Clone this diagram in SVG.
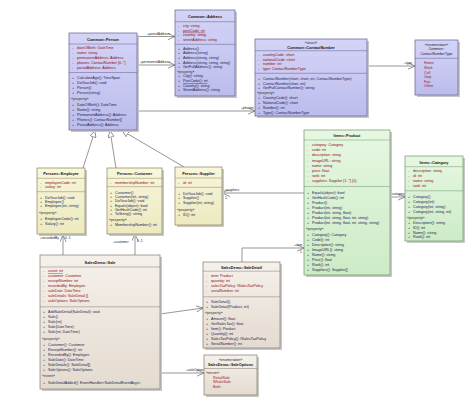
<svg xmlns="http://www.w3.org/2000/svg" width="474" height="404" viewBox="0 0 474 404">
<defs>
<linearGradient id="gC" x1="0" y1="0" x2="0" y2="1"><stop offset="0" stop-color="#d4d4f8"/><stop offset="1" stop-color="#bcbcec"/></linearGradient>
<linearGradient id="gP" x1="0" y1="0" x2="0" y2="1"><stop offset="0" stop-color="#f8f6dc"/><stop offset="1" stop-color="#ede9bf"/></linearGradient>
<linearGradient id="gI" x1="0" y1="0" x2="0" y2="1"><stop offset="0" stop-color="#e6f7e2"/><stop offset="1" stop-color="#cdebc6"/></linearGradient>
<linearGradient id="gS" x1="0" y1="0" x2="0" y2="1"><stop offset="0" stop-color="#f5f0ea"/><stop offset="1" stop-color="#e4dbd0"/></linearGradient>
<marker id="tri" viewBox="0 0 10 10" refX="10" refY="5" markerWidth="7" markerHeight="7" markerUnits="userSpaceOnUse" orient="auto"><path d="M0.5,0.5 L9.5,5 L0.5,9.5 z" fill="#ffffff" stroke="#6a6a6a" stroke-width="1"/></marker>
<marker id="opn" viewBox="0 0 10 10" refX="10" refY="5" markerWidth="7" markerHeight="7" markerUnits="userSpaceOnUse" orient="auto"><path d="M0,0.5 L10,5 L0,9.5" fill="none" stroke="#6a6a6a" stroke-width="1"/></marker>
</defs>
<style>
text{font-family:"Liberation Sans",Arial,sans-serif;font-size:3.7px;fill:#1c1c50}
.h{font-weight:bold;text-anchor:middle;fill:#111;font-size:3.8px}
.st{text-anchor:middle;fill:#222;font-size:3.5px}
.a{fill:#8a1010}
.e{fill:#9a1a1a}
.pr{fill:#333}
.lb{font-size:3.3px;fill:#222}
.sh{fill:#c8c8c8}
.bc{fill:url(#gC);stroke:#5e5e92;stroke-width:0.7}
.bp{fill:url(#gP);stroke:#8a8458;stroke-width:0.7}
.bi{fill:url(#gI);stroke:#6d9466;stroke-width:0.7}
.bs{fill:url(#gS);stroke:#857a6c;stroke-width:0.7}
.dc{stroke:#5e5e92;stroke-width:0.5}
.dp{stroke:#8a8458;stroke-width:0.5}
.di{stroke:#6d9466;stroke-width:0.5}
.ds{stroke:#857a6c;stroke-width:0.5}
.c{fill:none;stroke:#6a6a6a;stroke-width:0.7}
</style>

<g id="connectors">
<path class="c" d="M83,168 L95,130.5" marker-end="url(#tri)"/>
<path class="c" d="M116,168 L110,130.5" marker-end="url(#tri)"/>
<path class="c" d="M184,167 L122,130.5" marker-end="url(#tri)"/>
<path class="c" d="M137,36.5 L175,36.5" marker-end="url(#opn)"/>
<text class="lb" x="147" y="34.5">+postalAddress</text>
<path class="c" d="M137,65 L175,65" marker-end="url(#opn)"/>
<text class="lb" x="140" y="63">+permanentAddress</text>
<path class="c" d="M137,111 L255,111" marker-end="url(#opn)"/>
<text class="lb" x="241" y="109">+phones</text>
<path class="c" d="M367,66 L415,66" marker-end="url(#opn)"/>
<text class="lb" x="404" y="64">+type</text>
<path class="c" d="M390,197 L405,197" marker-end="url(#opn)"/>
<text class="lb" x="390" y="195">+category</text>
<path class="c" d="M304,193 L222,193" marker-end="url(#opn)"/>
<text class="lb" x="224" y="191">+suppliers</text>
<text class="lb" x="225" y="199">1..*</text>
<path class="c" d="M242,262 L242,248 L304,248" marker-end="url(#opn)"/>
<text class="lb" x="294" y="246">+item</text>
<text class="lb" x="300" y="252.5">1</text>
<path class="c" d="M160,314 L203,308" marker-end="url(#opn)"/>
<path class="c" d="M160,373 L204,373" marker-end="url(#opn)"/>
<text class="lb" x="186" y="371">+saleOptions</text>
<path class="c" d="M63,255 L63,235" marker-end="url(#opn)"/>
<text class="lb" x="40" y="239">+recordedBy</text>
<text class="lb" x="65" y="239">0..1</text>
<path class="c" d="M135,255 L135,234" marker-end="url(#opn)"/>
<text class="lb" x="113" y="243">+customer</text>
<text class="lb" x="137" y="242">0..1</text>
</g>

<g id="Person">
<rect class="sh" x="71" y="35" width="68" height="97"/>
<rect class="bc" x="69" y="33" width="68" height="97"/>
<text class="h" x="103" y="40.5">Common::Person</text>
<line class="dc" x1="69" y1="44" x2="137" y2="44"/>
<g class="a">
<text x="72" y="49.4">-</text><text x="77" y="49.4" class="a">dateOfBirth: DateTime</text>
<text x="72" y="54.4">-</text><text x="77" y="54.4" class="a">name: string</text>
<text x="72" y="59.4">-</text><text x="77" y="59.4" class="a">permanentAddress: Address</text>
<text x="72" y="64.4">-</text><text x="77" y="64.4" class="a">phones: ContactNumber [0..*]</text>
<text x="72" y="69.4">-</text><text x="77" y="69.4" class="a">postalAddress: Address</text>
</g>
<line class="dc" x1="69" y1="72.5" x2="137" y2="72.5"/>
<text x="72" y="79.4">+</text><text x="77" y="79.4">CalculateAge(): TimeSpan</text>
<text x="72" y="84.4">+</text><text x="77" y="84.4">DoYourJob(): void</text>
<text x="72" y="89.4">+</text><text x="77" y="89.4">Person()</text>
<text x="72" y="94.4">+</text><text x="77" y="94.4">Person(string)</text>
<text class="pr" x="71" y="100.4">«property»</text>
<text x="72" y="106.4">+</text><text x="77" y="106.4">DateOfBirth(): DateTime</text>
<text x="72" y="111.4">+</text><text x="77" y="111.4">Name(): string</text>
<text x="72" y="116.4">+</text><text x="77" y="116.4">PermanentAddress(): Address</text>
<text x="72" y="121.4">+</text><text x="77" y="121.4">Phones(): ContactNumber[]</text>
<text x="72" y="126.4">+</text><text x="77" y="126.4">PostalAddress(): Address</text>
</g>

<g id="Address">
<rect class="sh" x="177" y="12" width="60" height="86"/>
<rect class="bc" x="175" y="10" width="60" height="86"/>
<text class="h" x="205" y="17.5">Common::Address</text>
<line class="dc" x1="175" y1="21.7" x2="235" y2="21.7"/>
<text class="a" x="178" y="27">-</text><text class="a" x="183" y="27">city: string</text>
<text class="a" x="178" y="31.7">-</text><text class="a" x="183" y="31.7" text-decoration="underline">postCode: int</text>
<text class="a" x="178" y="36.4">-</text><text class="a" x="183" y="36.4">country: string</text>
<text class="a" x="178" y="41">-</text><text class="a" x="183" y="41">streetAddress: string</text>
<line class="dc" x1="175" y1="44.3" x2="235" y2="44.3"/>
<text x="178" y="49.7">+</text><text x="183" y="49.7">Address()</text>
<text x="178" y="54.4">+</text><text x="183" y="54.4">Address(string)</text>
<text x="178" y="59.1">+</text><text x="183" y="59.1">Address(string, string)</text>
<text x="178" y="63.7">+</text><text x="183" y="63.7">Address(string, string, string)</text>
<text x="178" y="68.4">+</text><text x="183" y="68.4">GetFullAddress(): string</text>
<text class="pr" x="177" y="72.9">«property»</text>
<text x="178" y="77.4">+</text><text x="183" y="77.4">City(): string</text>
<text x="178" y="82.1">+</text><text x="183" y="82.1" text-decoration="underline">PostCode(): int</text>
<text x="178" y="86.7">+</text><text x="183" y="86.7">Country(): string</text>
<text x="178" y="91.4">+</text><text x="183" y="91.4">StreetAddress(): string</text>
</g>

<g id="ContactNumber">
<rect class="sh" x="257" y="41" width="112" height="77"/>
<rect class="bc" x="255" y="39" width="112" height="77"/>
<text class="st" x="311" y="44.3">«struct»</text>
<text class="h" x="311" y="48.6">Common::ContactNumber</text>
<line class="dc" x1="255" y1="50.7" x2="367" y2="50.7"/>
<text class="a" x="258" y="56.4">-</text><text class="a" x="263" y="56.4">countryCode: short</text>
<text class="a" x="258" y="60.7">-</text><text class="a" x="263" y="60.7">nationalCode: short</text>
<text class="a" x="258" y="65.4">-</text><text class="a" x="263" y="65.4">number: int</text>
<text class="a" x="258" y="69.7">-</text><text class="a" x="263" y="69.7">type: ContactNumberType</text>
<line class="dc" x1="255" y1="73.3" x2="367" y2="73.3"/>
<text x="258" y="79.7">+</text><text x="263" y="79.7">ContactNumber(short, short, int, ContactNumberType)</text>
<text x="258" y="84.7">+</text><text x="263" y="84.7">ContactNumber(short, int)</text>
<text x="258" y="89.1">+</text><text x="263" y="89.1">GetFullContactNumber(): string</text>
<text class="pr" x="257" y="94.1">«property»</text>
<text x="258" y="99.1">+</text><text x="263" y="99.1">CountryCode(): short</text>
<text x="258" y="104.1">+</text><text x="263" y="104.1">NationalCode(): short</text>
<text x="258" y="108.7">+</text><text x="263" y="108.7">Number(): int</text>
<text x="258" y="113.7">+</text><text x="263" y="113.7">Type(): ContactNumberType</text>
</g>

<g id="ContactNumberType">
<rect class="sh" x="417" y="42" width="43" height="55"/>
<rect class="bc" x="415" y="40" width="43" height="55"/>
<text class="st" x="436.5" y="46">«enumeration»</text>
<text class="st" x="436.5" y="50.3">Common::</text>
<text class="st" x="436.5" y="54.6">ContactNumberType</text>
<line class="dc" x1="415" y1="58.3" x2="458" y2="58.3"/>
<text class="e" x="424" y="64.4">Home</text>
<text class="e" x="424" y="69">Work</text>
<text class="e" x="424" y="73.6">Cell</text>
<text class="e" x="424" y="78.2">Voip</text>
<text class="e" x="424" y="82.8">Fax</text>
<text class="e" x="424" y="87.4">Other</text>
</g>

<g id="Employee">
<rect class="sh" x="39" y="170" width="48" height="66"/>
<rect class="bp" x="37" y="168" width="48" height="66"/>
<text class="h" x="61" y="175.3">Persons::Employee</text>
<line class="dp" x1="37" y1="178.3" x2="85" y2="178.3"/>
<text class="a" x="40" y="183.7">-</text><text class="a" x="45" y="183.7">employeeCode: int</text>
<text class="a" x="40" y="188.1">-</text><text class="a" x="45" y="188.1">salary: int</text>
<line class="dp" x1="37" y1="191.7" x2="85" y2="191.7"/>
<text x="40" y="198.7">+</text><text x="45" y="198.7">DoYourJob(): void</text>
<text x="40" y="203.1">+</text><text x="45" y="203.1">Employee()</text>
<text x="40" y="207.4">+</text><text x="45" y="207.4">Employee(int, string)</text>
<text class="pr" x="39" y="213.7">«property»</text>
<text x="40" y="219.7">+</text><text x="45" y="219.7">EmployeeCode(): int</text>
<text x="40" y="225.4">+</text><text x="45" y="225.4">Salary(): int</text>
</g>

<g id="Customer">
<rect class="sh" x="109" y="170" width="55" height="66"/>
<rect class="bp" x="107" y="168" width="55" height="66"/>
<text class="h" x="134.5" y="175.3">Persons::Customer</text>
<line class="dp" x1="107" y1="178.3" x2="162" y2="178.3"/>
<text class="a" x="110" y="183.7">-</text><text class="a" x="115" y="183.7">membershipNumber: int</text>
<line class="dp" x1="107" y1="186.7" x2="162" y2="186.7"/>
<text x="110" y="193.7">+</text><text x="115" y="193.7">Customer()</text>
<text x="110" y="198.1">+</text><text x="115" y="198.1">Customer(int, string)</text>
<text x="110" y="202.4">+</text><text x="115" y="202.4">DoYourJob(): void</text>
<text x="110" y="206.7">+</text><text x="115" y="206.7">Equals(object): bool</text>
<text x="110" y="211.1">+</text><text x="115" y="211.1">GetHashCode(): int</text>
<text x="110" y="215.4">+</text><text x="115" y="215.4">ToString(): string</text>
<text class="pr" x="109" y="220.7">«property»</text>
<text x="110" y="225.7">+</text><text x="115" y="225.7">MembershipNumber(): int</text>
</g>

<g id="Supplier">
<rect class="sh" x="177" y="169" width="47" height="58"/>
<rect class="bp" x="175" y="167" width="47" height="58"/>
<text class="h" x="198.5" y="175.3">Persons::Supplier</text>
<line class="dp" x1="175" y1="178" x2="222" y2="178"/>
<text class="a" x="178" y="184">-</text><text class="a" x="183" y="184">id: int</text>
<line class="dp" x1="175" y1="187.3" x2="222" y2="187.3"/>
<text x="178" y="194.7">+</text><text x="183" y="194.7">DoYourJob(): void</text>
<text x="178" y="199.1">+</text><text x="183" y="199.1">Supplier()</text>
<text x="178" y="203.7">+</text><text x="183" y="203.7">Supplier(int, string)</text>
<text class="pr" x="177" y="210.7">«property»</text>
<text x="178" y="215.7">+</text><text x="183" y="215.7">ID(): int</text>
</g>

<g id="Product">
<rect class="sh" x="306" y="132" width="86" height="145"/>
<rect class="bi" x="304" y="130" width="86" height="145"/>
<text class="h" x="347" y="137.4">Items::Product</text>
<line class="di" x1="304" y1="140" x2="390" y2="140"/>
<text class="a" x="307" y="146.4">-</text><text class="a" x="312" y="146.4">category: Category</text>
<text class="a" x="307" y="151.4">-</text><text class="a" x="312" y="151.4">code: int</text>
<text class="a" x="307" y="156.4">-</text><text class="a" x="312" y="156.4">description: string</text>
<text class="a" x="307" y="161.7">-</text><text class="a" x="312" y="161.7">imageURL: string</text>
<text class="a" x="307" y="166.7">-</text><text class="a" x="312" y="166.7">name: string</text>
<text class="a" x="307" y="171.7">-</text><text class="a" x="312" y="171.7">price: float</text>
<text class="a" x="307" y="176.9">-</text><text class="a" x="312" y="176.9">rank: int</text>
<text class="a" x="307" y="181.9">-</text><text class="a" x="312" y="181.9">suppliers: Supplier [1..*] {0}</text>
<line class="di" x1="304" y1="186.5" x2="390" y2="186.5"/>
<text x="307" y="193.7">+</text><text x="312" y="193.7">Equals(object): bool</text>
<text x="307" y="198.7">+</text><text x="312" y="198.7">GetHashCode(): int</text>
<text x="307" y="203.7">+</text><text x="312" y="203.7">Product()</text>
<text x="307" y="209.1">+</text><text x="312" y="209.1">Product(int, string)</text>
<text x="307" y="214.1">+</text><text x="312" y="214.1">Product(int, string, float)</text>
<text x="307" y="219.1">+</text><text x="312" y="219.1">Product(int, string, float, int, string)</text>
<text x="307" y="224.4">+</text><text x="312" y="224.4">Product(int, string, float, int, string, string)</text>
<text class="pr" x="306" y="230.4">«property»</text>
<text x="307" y="236.1">+</text><text x="312" y="236.1">Category(): Category</text>
<text x="307" y="241.1">+</text><text x="312" y="241.1">Code(): int</text>
<text x="307" y="246.1">+</text><text x="312" y="246.1">Description(): string</text>
<text x="307" y="251.1">+</text><text x="312" y="251.1">ImageURL(): string</text>
<text x="307" y="256.1">+</text><text x="312" y="256.1">Name(): string</text>
<text x="307" y="261.1">+</text><text x="312" y="261.1">Price(): float</text>
<text x="307" y="266.1">+</text><text x="312" y="266.1">Rank(): int</text>
<text x="307" y="271.1">+</text><text x="312" y="271.1">Suppliers(): Supplier[]</text>
</g>

<g id="Category">
<rect class="sh" x="407" y="158" width="58" height="85"/>
<rect class="bi" x="405" y="156" width="58" height="85"/>
<text class="h" x="434" y="163.5">Items::Category</text>
<line class="di" x1="405" y1="166.7" x2="463" y2="166.7"/>
<text class="a" x="408" y="172.1">-</text><text class="a" x="413" y="172.1">description: string</text>
<text class="a" x="408" y="177.1">-</text><text class="a" x="413" y="177.1">id: int</text>
<text class="a" x="408" y="182.1">-</text><text class="a" x="413" y="182.1">name: string</text>
<text class="a" x="408" y="187.1">-</text><text class="a" x="413" y="187.1">rank: int</text>
<line class="di" x1="405" y1="190.8" x2="463" y2="190.8"/>
<text x="408" y="198.1">+</text><text x="413" y="198.1">Category()</text>
<text x="408" y="203.1">+</text><text x="413" y="203.1">Category(int)</text>
<text x="408" y="208.1">+</text><text x="413" y="208.1">Category(int, string)</text>
<text x="408" y="213.1">+</text><text x="413" y="213.1">Category(int, string, int)</text>
<text class="pr" x="407" y="218.7">«property»</text>
<text x="408" y="223.9">+</text><text x="413" y="223.9">Description(): string</text>
<text x="408" y="228.7">+</text><text x="413" y="228.7">ID(): int</text>
<text x="408" y="233.5">+</text><text x="413" y="233.5">Name(): string</text>
<text x="408" y="238.3">+</text><text x="413" y="238.3">Rank(): int</text>
</g>

<g id="Sale">
<rect class="sh" x="42" y="257" width="120" height="134"/>
<rect class="bs" x="40" y="255" width="120" height="134"/>
<text class="h" x="100" y="263.5">SalesDemo::Sale</text>
<line class="ds" x1="40" y1="267" x2="160" y2="267"/>
<text class="a" x="43" y="272.4">-</text><text class="a" x="48" y="272.4" text-decoration="underline">count: int</text>
<text class="a" x="43" y="277.4">-</text><text class="a" x="48" y="277.4">customer: Customer</text>
<text class="a" x="43" y="282.4">-</text><text class="a" x="48" y="282.4">receiptNumber: int</text>
<text class="a" x="43" y="287.4">-</text><text class="a" x="48" y="287.4">recordedBy: Employee</text>
<text class="a" x="43" y="292.4">-</text><text class="a" x="48" y="292.4">saleDate: DateTime</text>
<text class="a" x="43" y="297.4">-</text><text class="a" x="48" y="297.4">saleDetails: SaleDetail []</text>
<text class="a" x="43" y="302.4">-</text><text class="a" x="48" y="302.4">saleOptions: SaleOptions</text>
<line class="ds" x1="40" y1="306.8" x2="160" y2="306.8"/>
<text x="43" y="313.4">+</text><text x="48" y="313.4">AddSaleDetail(SaleDetail): void</text>
<text x="43" y="318.4">+</text><text x="48" y="318.4">Sale()</text>
<text x="43" y="323.4">+</text><text x="48" y="323.4">Sale(int)</text>
<text x="43" y="328.4">+</text><text x="48" y="328.4">Sale(DateTime)</text>
<text x="43" y="333.4">+</text><text x="48" y="333.4">Sale(int, DateTime)</text>
<text class="pr" x="42" y="339.6">«property»</text>
<text x="43" y="345.6">+</text><text x="48" y="345.6">Customer(): Customer</text>
<text x="43" y="350.6">+</text><text x="48" y="350.6">ReceiptNumber(): int</text>
<text x="43" y="355.6">+</text><text x="48" y="355.6">RecordedBy(): Employee</text>
<text x="43" y="360.6">+</text><text x="48" y="360.6">SaleDate(): DateTime</text>
<text x="43" y="365.6">+</text><text x="48" y="365.6">SaleDetails(): SaleDetail[]</text>
<text x="43" y="370.6">+</text><text x="48" y="370.6">SaleOptions(): SaleOptions</text>
<text class="pr" x="42" y="377.4">«event»</text>
<text x="43" y="383.6">+</text><text x="48" y="383.6">SaleDetailAdded(): EventHandler&lt;SaleDetailEventArgs&gt;</text>
</g>

<g id="SaleDetail">
<rect class="sh" x="205" y="264" width="77" height="86"/>
<rect class="bs" x="203" y="262" width="77" height="86"/>
<text class="h" x="241.5" y="268.8">SalesDemo::SaleDetail</text>
<line class="ds" x1="203" y1="271.2" x2="280" y2="271.2"/>
<text class="a" x="206" y="277.4">-</text><text class="a" x="211" y="277.4">item: Product</text>
<text class="a" x="206" y="282.1">-</text><text class="a" x="211" y="282.1">quantity: int</text>
<text class="a" x="206" y="287.2">-</text><text class="a" x="211" y="287.2">salesTaxPolicy: ISalesTaxPolicy</text>
<text class="a" x="206" y="292.3">-</text><text class="a" x="211" y="292.3">serialNumber: int</text>
<line class="ds" x1="203" y1="296.8" x2="280" y2="296.8"/>
<text x="206" y="303">+</text><text x="211" y="303">SaleDetail()</text>
<text x="206" y="308.4">+</text><text x="211" y="308.4">SaleDetail(Product, int)</text>
<text class="pr" x="205" y="314.4">«property»</text>
<text x="206" y="320.2">+</text><text x="211" y="320.2">Amount(): float</text>
<text x="206" y="325.2">+</text><text x="211" y="325.2">GetSalesTax(): float</text>
<text x="206" y="330.4">+</text><text x="211" y="330.4">Item(): Product</text>
<text x="206" y="335.4">+</text><text x="211" y="335.4">Quantity(): int</text>
<text x="206" y="340.4">+</text><text x="211" y="340.4">SalesTaxPolicy(): ISalesTaxPolicy</text>
<text x="206" y="345.4">+</text><text x="211" y="345.4">SerialNumber(): int</text>
</g>

<g id="SaleOptions">
<rect class="sh" x="206" y="357" width="53" height="40"/>
<rect class="bs" x="204" y="355" width="53" height="40"/>
<text class="st" x="230.5" y="361.3">«enumeration»</text>
<text class="h" x="230.5" y="365.8">SalesDemo::SaleOptions</text>
<line class="ds" x1="204" y1="368.5" x2="257" y2="368.5"/>
<text class="pr" x="206" y="373.5">«enum»</text>
<text class="e" x="213" y="378.5">RetailSale</text>
<text class="e" x="213" y="383.3">WholeSale</text>
<text class="e" x="213" y="388">Both</text>
</g>
</svg>
